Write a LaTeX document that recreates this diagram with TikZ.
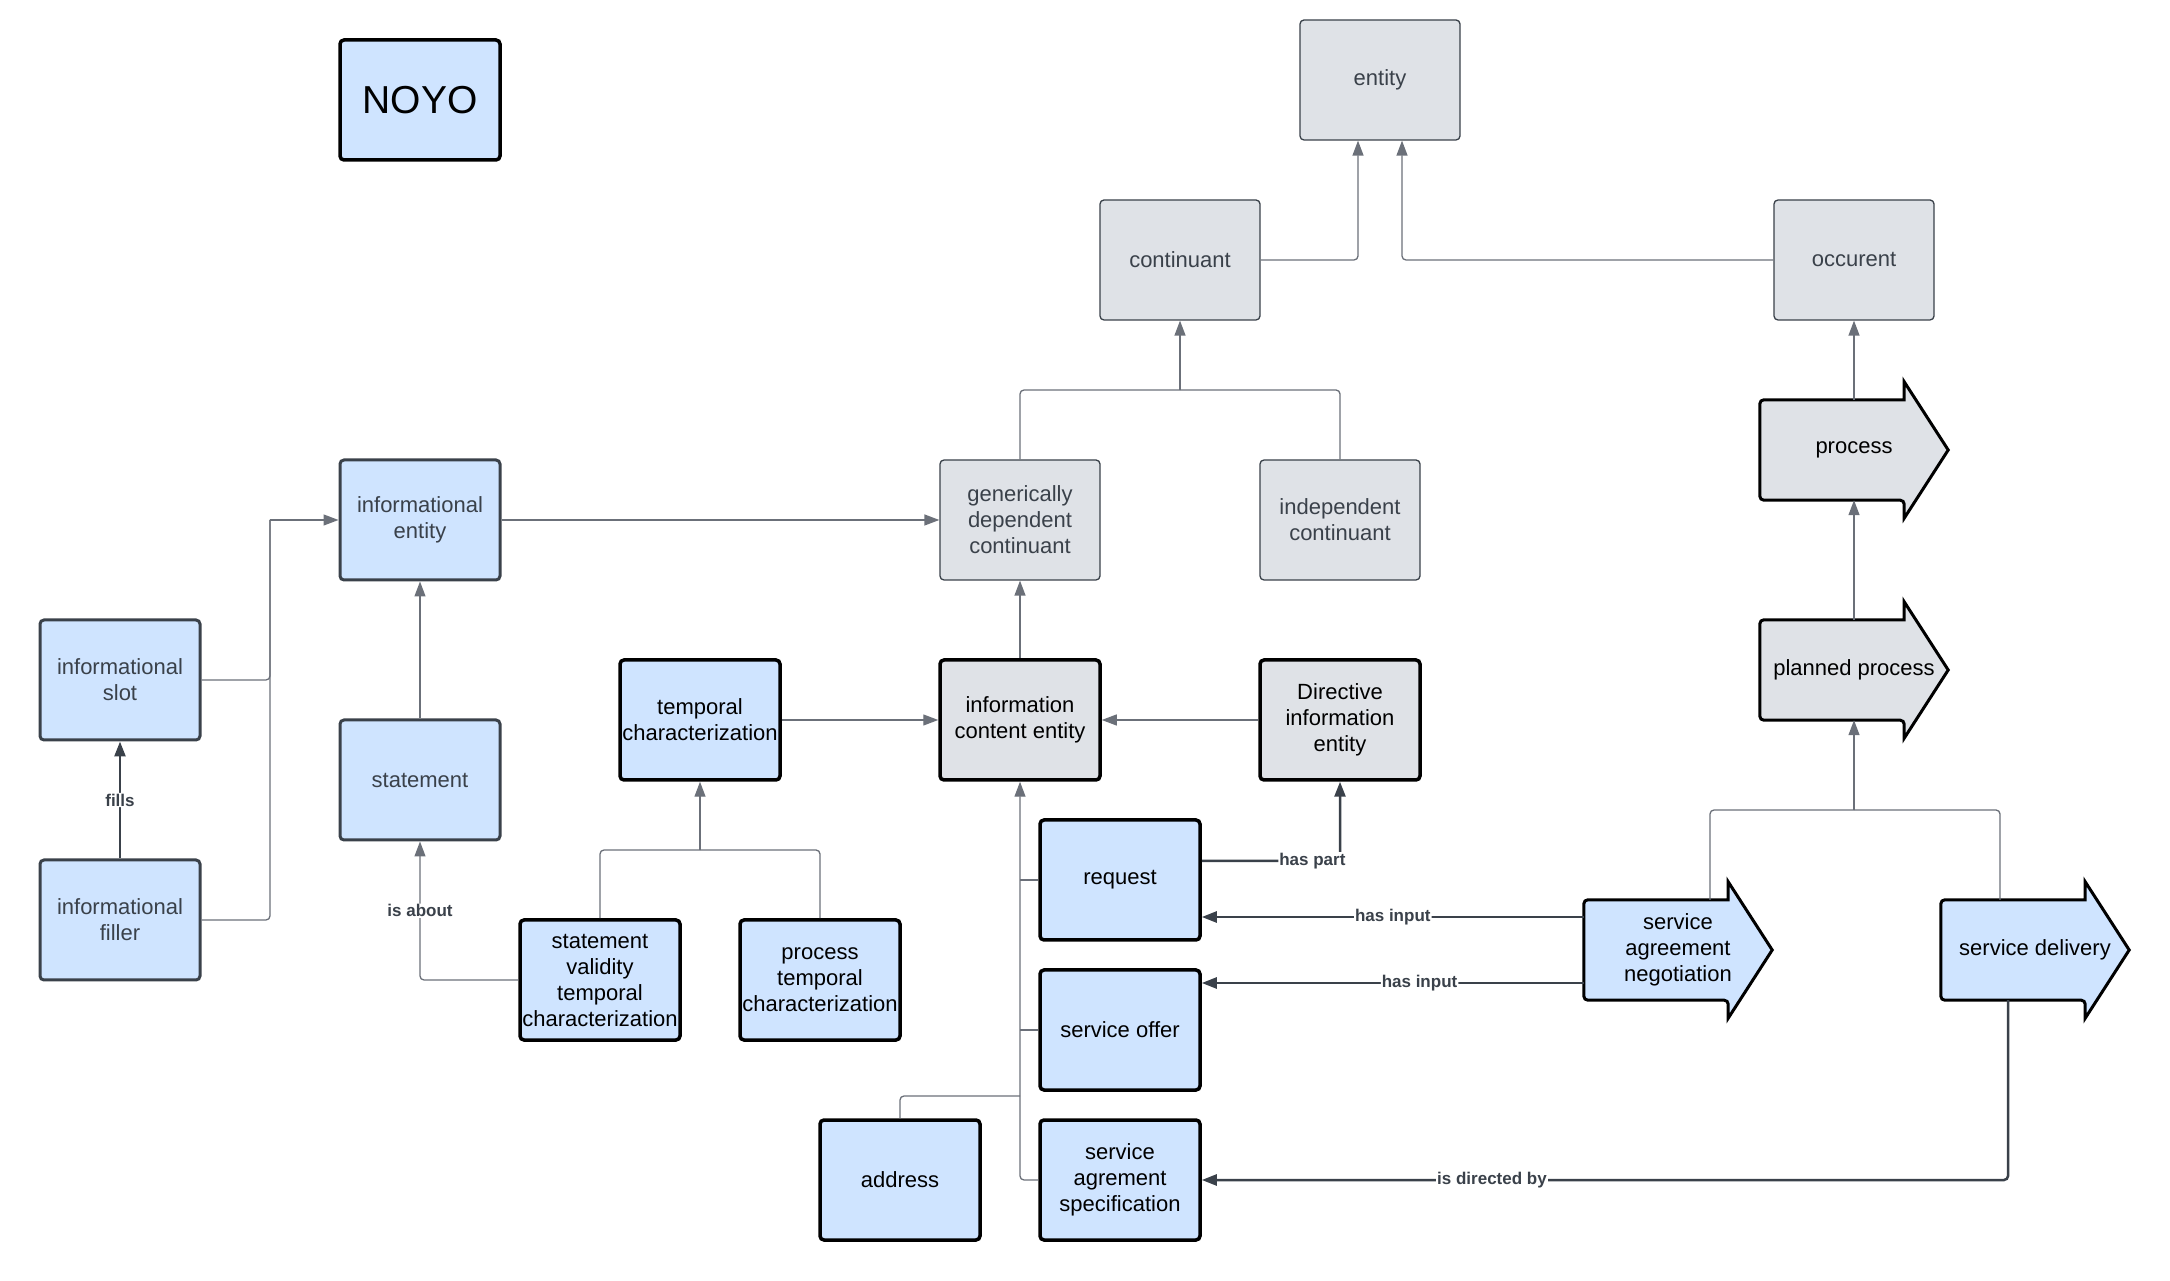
\documentclass[tikz,border=0pt]{standalone}
\usepackage{fontspec}
\setmainfont{Liberation Sans}
\usetikzlibrary{
    arrows.meta,
    positioning,
    calc,
    backgrounds
}

\definecolor{noyoblue}{HTML}{CFE4FF}
\definecolor{bfogray}{HTML}{DFE2E7}
\definecolor{edgegray}{HTML}{3A414A}
\definecolor{wiregray}{HTML}{6B7079}

% outline of a process shape round a named node
\newcommand{\blockarrow}[2]{%
    \draw[#2] ([xshift=-44pt]#1.north east)
        [rounded corners=4pt] -- (#1.north west) -- (#1.south west)
        -- ([xshift=-44pt]#1.south east)
        [sharp corners] -- ([xshift=-44pt, yshift=-18pt]#1.south east)
        -- (#1.east) -- ([xshift=-44pt, yshift=18pt]#1.north east) -- cycle;
}

\begin{document}
\begin{tikzpicture}[
        x=1pt, y=1pt,
        box/.style={rectangle, rounded corners=4pt, minimum width=160pt, minimum height=120pt, inner sep=1pt, align=center, font=\fontsize{22}{26}\selectfont},
        bfobox/.style={box, fill=bfogray, draw=edgegray, line width=1.3pt, text=edgegray},
        infobox/.style={box, fill=noyoblue, draw=edgegray, line width=3pt, text=edgegray},
        noyobox/.style={box, fill=noyoblue, draw=black, line width=3.5pt},
        icebox/.style={box, fill=bfogray, draw=black, line width=3.5pt},
        flow/.style={minimum width=188pt, minimum height=100pt, inner sep=0pt, align=center, font=\fontsize{22}{26}\selectfont},
        flowblue/.style={fill=noyoblue, draw=black, line width=3pt},
        flowgray/.style={fill=bfogray, draw=black, line width=3pt},
        wire/.style={draw=wiregray, line width=1.3pt, rounded corners=4pt},
        isa/.style={wire, -{Triangle[length=15pt, width=11pt]}},
        rel/.style={isa, draw=edgegray, line width=2.5pt},
        rellabel/.style={font=\bfseries\fontsize{17}{20}\selectfont, text=edgegray, fill=white, inner sep=1pt},
    ]
        \useasboundingbox (0,0) rectangle (2170,1280);

        % BFO upper level
        \node[bfobox] (entity) at (1380,1200) {entity};
        \node[bfobox] (continuant) at (1180,1020) {continuant};
        \node[bfobox] (occurent) at (1854,1020) {occurent};
        \node[bfobox] (gdc) at (1020,760) {generically\\dependent\\continuant};
        \node[bfobox] (indep) at (1340,760) {independent\\continuant};
        \node[flow] (process) at (1854,830) {process};
        \node[flow] (planned) at (1854,610) {planned process};

        % NOYO classes
        \node[noyobox, font=\fontsize{39}{44}\selectfont] (noyo) at (420,1180) {NOYO};
        \node[infobox] (infoentity) at (420,760) {informational\\entity};
        \node[infobox] (infoslot) at (120,600) {informational\\slot};
        \node[infobox] (infofiller) at (120,360) {informational\\filler};
        \node[infobox] (statement) at (420,500) {statement};
        \node[noyobox] (tempchar) at (700,560) {temporal\\characterization};
        \node[noyobox] (svtc) at (600,300) {statement\\validity\\temporal\\characterization};
        \node[noyobox] (ptc) at (820,300) {process\\temporal\\characterization};
        \node[icebox] (ice) at (1020,560) {information\\content entity};
        \node[icebox] (directive) at (1340,560) {Directive\\information\\entity};
        \node[noyobox] (request) at (1120,400) {request};
        \node[noyobox] (offer) at (1120,250) {service offer};
        \node[noyobox] (address) at (900,100) {address};
        \node[noyobox] (sas) at (1120,100) {service\\agrement\\specification};
        \node[flow] (negotiation) at (1678,330) {service\\agreement\\negotiation};
        \node[flow] (delivery) at (2035,330) {service delivery};

        \begin{scope}[on background layer]
            \blockarrow{process}{flowgray}
            \blockarrow{planned}{flowgray}
            \blockarrow{negotiation}{flowblue}
            \blockarrow{delivery}{flowblue}
        \end{scope}

        % is-a hierarchy
        \draw[isa] (continuant.east) -| ([xshift=-22pt]entity.south);
        \draw[isa] (occurent.west) -| ([xshift=22pt]entity.south);
        \coordinate (cjoin) at (1180,890);
        \draw[wire] (gdc.north) |- (cjoin);
        \draw[wire] (indep.north) |- (cjoin);
        \draw[isa] (cjoin) -- (continuant.south);
        \draw[isa] (process.north) -- (occurent.south);
        \draw[isa] (planned.north) -- (process.south);
        \coordinate (pjoin) at (1854,470);
        \draw[wire] ([xshift=32pt]negotiation.north) |- (pjoin);
        \draw[wire] ([xshift=-35pt]delivery.north) |- (pjoin);
        \draw[isa] (pjoin) -- (planned.south);

        \draw[isa] (infoentity.east) -- (gdc.west);
        \coordinate (ijoin) at (270,760);
        \draw[wire] (infoslot.east) -| (ijoin);
        \draw[wire] (infofiller.east) -| (ijoin);
        \draw[isa] (ijoin) -- (infoentity.west);
        \draw[isa] (statement.north) -- (infoentity.south);
        \coordinate (tjoin) at (700,430);
        \draw[wire] (svtc.north) |- (tjoin);
        \draw[wire] (ptc.north) |- (tjoin);
        \draw[isa] (tjoin) -- (tempchar.south);
        \draw[isa] (tempchar.east) -- (ice.west);
        \draw[isa] (directive.west) -- (ice.east);
        \draw[isa] (ice.north) -- (gdc.south);

        % parts under information content entity
        \draw[isa] (sas.west) -| (ice.south);
        \foreach \part in {request, offer} {
            \draw[wire] (\part.west) -- (\part.west -| ice.south);
        }
        \coordinate (ajoin) at (1020,184);
        \draw[wire] (address.north) |- (ajoin);

        % relations
        \draw[rel] (infofiller.north) -- node[rellabel] {fills} (infoslot.south);
        \draw[isa] (svtc.west) -| node[pos=0.75, rellabel] {is about} (statement.south);
        \draw[rel] ([yshift=19pt]request.east) -| node[pos=0.4, rellabel] {has part} (directive.south);
        \draw[rel] ([yshift=33pt]negotiation.west) -- node[rellabel] {has input} ([yshift=33pt]negotiation.west -| request.east);
        \draw[rel] ([yshift=-33pt]negotiation.west) -- node[pos=0.43, rellabel] {has input} ([yshift=-33pt]negotiation.west -| offer.east);
        \draw[rel] ([xshift=-27pt]delivery.south) |- node[pos=0.82, rellabel] {is directed by} (sas.east);
    \end{tikzpicture}
\end{document}
